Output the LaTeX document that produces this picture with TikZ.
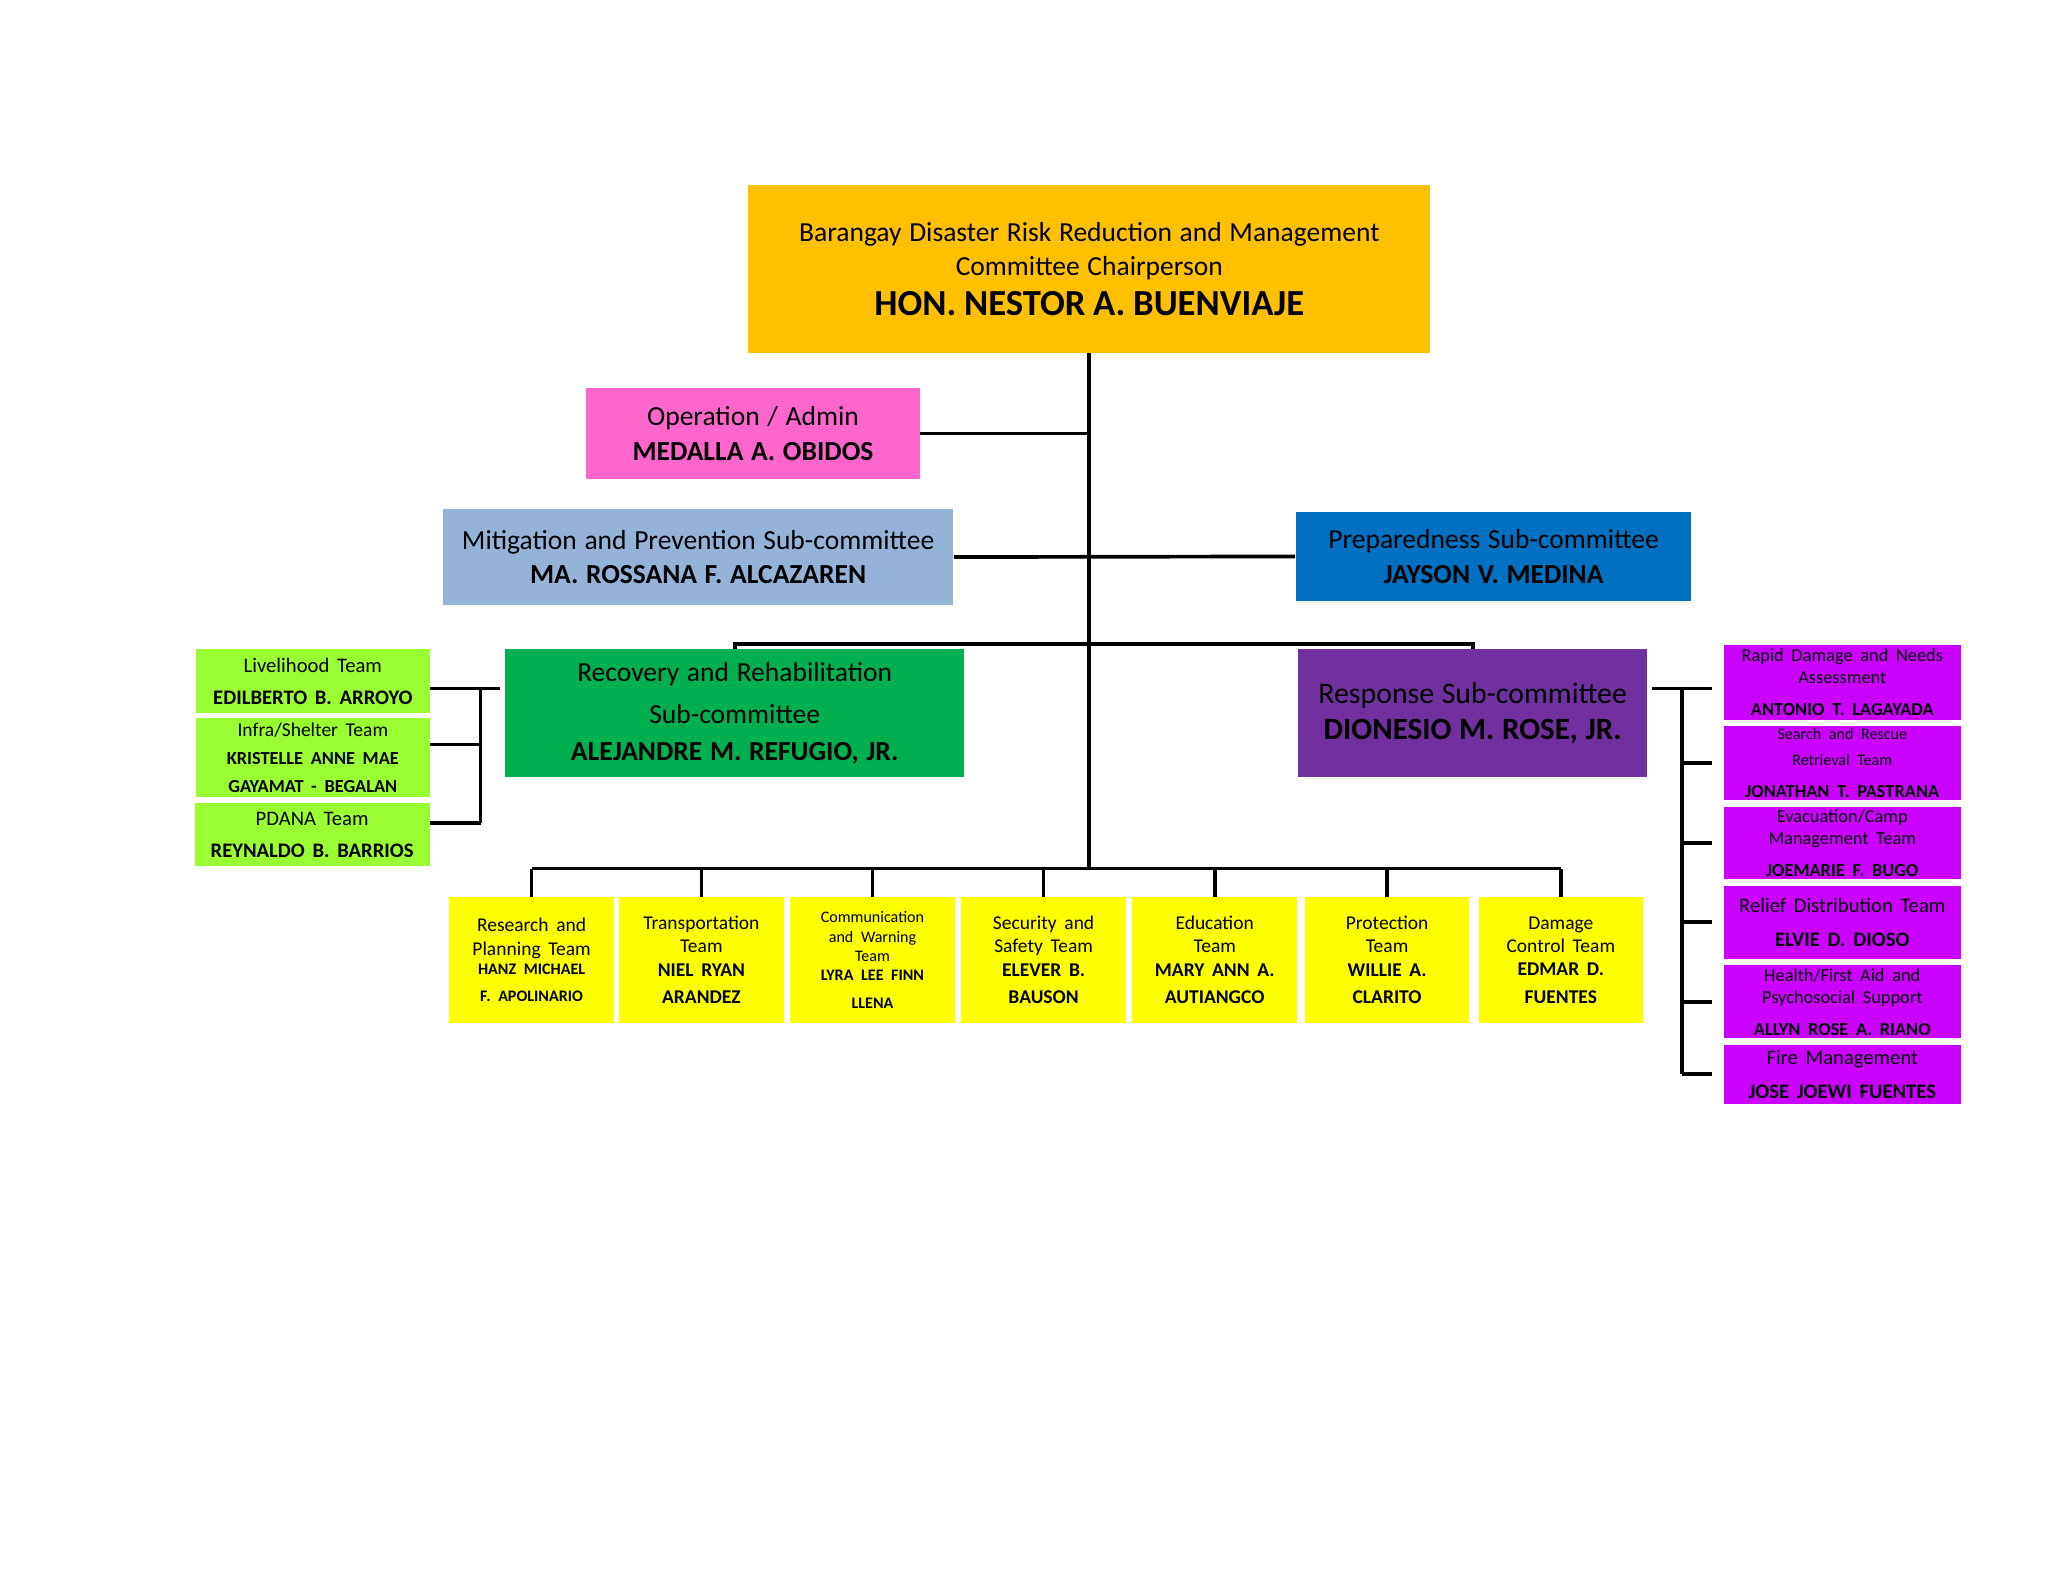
\documentclass[tikz,border=0pt]{standalone}
\usepackage{fontspec}
\setmainfont{Carlito}
\usetikzlibrary{positioning, calc}
\newcommand{\fs}[1]{\fontsize{#1}{\fpeval{#1*1.2}}\selectfont}
\definecolor{chairC}{HTML}{FFC000}
\definecolor{opC}{HTML}{FF66CC}
\definecolor{mitC}{HTML}{95B3D7}
\definecolor{prepC}{HTML}{0070C0}
\definecolor{recC}{HTML}{00B050}
\definecolor{respC}{HTML}{7030A0}
\definecolor{teamG}{HTML}{99FF33}
\definecolor{teamY}{HTML}{FFFF00}
\definecolor{teamM}{HTML}{CC00FF}
\tikzset{
  unit/.style={align=center, inner sep=1pt},
  sz/.style 2 args={minimum width=#1*0.02cm, minimum height=#2*0.02cm, text width=#1*0.02cm-4pt},
  link/.style={line width=1.6pt},
}
\begin{document}
\begin{tikzpicture}[x=0.02cm, y=-0.02cm]
    \useasboundingbox[fill=white] (0,0) rectangle (1568,1211);

    % top levels
    \node[unit, sz={522}{128}, fill=chairC] (chair) at (834,206) {\fs{12}Barangay Disaster Risk Reduction and Management\\Committee Chairperson\\[4pt]\fs{16}\bfseries HON. NESTOR A. BUENVIAJE};
    \node[unit, sz={255}{70}, fill=opC] (op) at (576.5,332) {\fs{12}Operation / Admin\\[3pt]\bfseries MEDALLA A. OBIDOS};
    \node[unit, sz={391}{73}, fill=mitC] (mit) at (534.5,426.5) {\fs{12}Mitigation and Prevention Sub-committee\\[3pt]\bfseries MA. ROSSANA F. ALCAZAREN};
    \node[unit, sz={303}{68}, fill=prepC] (prep) at (1143.5,426) {\fs{12}Preparedness Sub-committee\\[3pt]\bfseries JAYSON V. MEDINA};
    \node[unit, sz={351}{98}, fill=recC] (rec) at (562.5,546) {\fs{12}Recovery and Rehabilitation\\[4pt]Sub-committee\\[4pt]\bfseries ALEJANDRE M. REFUGIO, JR.};
    \node[unit, sz={267}{98}, fill=respC] (resp) at (1127.5,546) {\fs{13}Response Sub-committee\\[4pt]\fs{13.5}\bfseries DIONESIO M. ROSE, JR.};

    % recovery teams
    \node[unit, sz={179}{49}, fill=teamG] (live) at (239.5,521.5) {\fs{9}Livelihood Team\\[2pt]\bfseries EDILBERTO B. ARROYO};
    \node[unit, sz={179}{60}, fill=teamG] (infra) at (239.5,580) {\fs{8.5}Infra/Shelter Team\\[3pt]\bfseries\fs{8}KRISTELLE ANNE MAE\\GAYAMAT - BEGALAN};
    \node[unit, sz={180}{48}, fill=teamG] (pdana) at (239,639) {\fs{9}PDANA Team\\[2pt]\bfseries REYNALDO B. BARRIOS};

    % chairperson teams
    \node[unit, sz={126}{96}, fill=teamY] (y1) at (407,735) {\fs{8.5}Research and\\Planning Team\\\bfseries\fs{7}HANZ MICHAEL\\F. APOLINARIO};
    \node[unit, sz={126}{96}, fill=teamY] (y2) at (537,735) {\fs{8.5}Transportation\\Team\\\bfseries NIEL RYAN\\ARANDEZ};
    \node[unit, sz={126}{96}, fill=teamY] (y3) at (668,735) {\fs{7}Communication\\and Warning\\Team\\\bfseries LYRA LEE FINN\\LLENA};
    \node[unit, sz={126}{96}, fill=teamY] (y4) at (799,735) {\fs{8.5}Security and\\Safety Team\\\bfseries ELEVER B.\\BAUSON};
    \node[unit, sz={126}{96}, fill=teamY] (y5) at (930,735) {\fs{8.5}Education\\Team\\\bfseries MARY ANN A.\\AUTIANGCO};
    \node[unit, sz={126}{96}, fill=teamY] (y6) at (1062,735) {\fs{8.5}Protection\\Team\\\bfseries WILLIE A.\\CLARITO};
    \node[unit, sz={126}{96}, fill=teamY] (y7) at (1195,735) {\fs{8.5}Damage\\Control Team\\\bfseries EDMAR D.\\FUENTES};

    % response teams
    \node[unit, sz={181}{57}, fill=teamM] (m1) at (1410.5,522.5) {\fs{8}Rapid Damage and Needs\\Assessment\\[2pt]\bfseries ANTONIO T. LAGAYADA};
    \node[unit, sz={181}{56}, fill=teamM] (m2) at (1410.5,584) {\fs{7}Search and Rescue\\[3pt]Retrieval Team\\[2pt]\fs{8}\bfseries JONATHAN T. PASTRANA};
    \node[unit, sz={181}{55}, fill=teamM] (m3) at (1410.5,645.5) {\fs{8}Evacuation/Camp\\Management Team\\[2pt]\bfseries JOEMARIE F. BUGO};
    \node[unit, sz={181}{56}, fill=teamM] (m4) at (1410.5,706) {\fs{9}Relief Distribution Team\\[3pt]\bfseries ELVIE D. DIOSO};
    \node[unit, sz={181}{56}, fill=teamM] (m5) at (1410.5,767) {\fs{8}Health/First Aid and\\Psychosocial Support\\[2pt]\bfseries ALLYN ROSE A. RIANO};
    \node[unit, sz={181}{45}, fill=teamM] (m6) at (1410.5,822.5) {\fs{9}Fire Management\\[3pt]\bfseries JOSE JOEWI FUENTES};

    % connector points
    \coordinate (bus) at (834,665);
    \coordinate (top) at (834,493);
    \coordinate (lbar) at (368,527);
    \coordinate (lbarEnd) at (368,630);
    \coordinate (rbar) at (1288,527);

    % connectors
    \draw[link] (chair.south) -- (bus);
    \draw[link] (op.east) -- (op.east -| bus);
    \draw[link] (mit.east) -- (prep.west);
    \draw[link] (rec.north) -- (rec.north |- top) -- (resp.north |- top) -- (resp.north);
    \draw[link] (y1.north |- bus) -- (y7.north |- bus);
    \foreach \t in {y1,y2,y3,y4,y5,y6,y7}
        \draw[link] (\t.north) -- (\t.north |- bus);

    \draw[link] (live.east |- lbar) -- ([xshift=-2pt]rec.west |- lbar);
    \draw[link] (lbar) -- (lbarEnd);
    \draw[link] (infra.east |- 0,570) -- (lbar |- 0,570);
    \draw[link] (pdana.east |- lbarEnd) -- (lbarEnd);

    \draw[link] ([xshift=2pt]resp.east |- rbar) -- ([xshift=-5pt]m1.west |- rbar);
    \draw[link] (rbar) -- (rbar |- m6.center);
    \foreach \t in {m2,m3,m4,m5,m6}
        \draw[link] (rbar |- \t.center) -- ([xshift=-5pt]\t.west);
\end{tikzpicture}
\end{document}
